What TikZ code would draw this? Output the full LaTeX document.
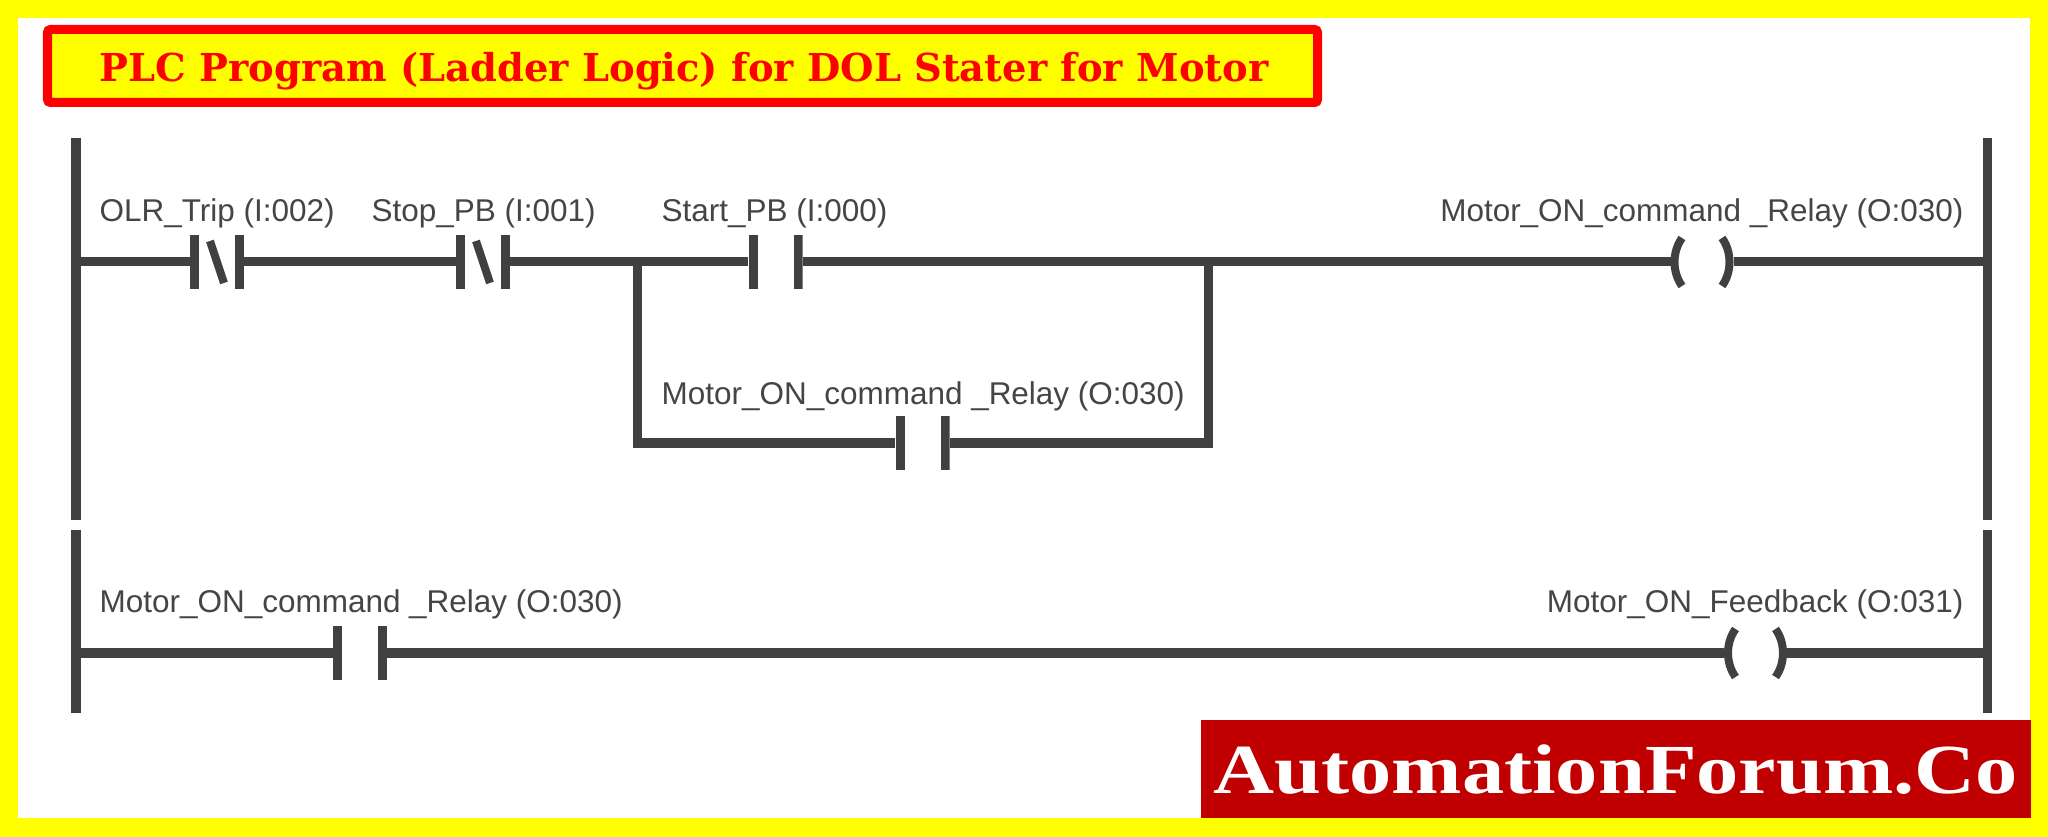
\documentclass[tikz,border=0pt]{standalone}
\usepackage{fontspec}
\setmainfont{Liberation Sans}
\newfontfamily\titlefont{DejaVu Serif}[BoldFont={DejaVu Serif Bold}]
\newfontfamily\brandfont{Liberation Serif}
\definecolor{ink}{HTML}{404040}
\definecolor{labelink}{HTML}{454545}
\definecolor{brandred}{HTML}{C00000}
\definecolor{frameyellow}{HTML}{FFFF00}
\definecolor{titlered}{HTML}{FF0000}
\newcommand{\contactbars}{
  \coordinate (c) at (path picture bounding box.center);
  \fill[ink] ([shift={(-27,-27)}]c) rectangle ([shift={(-18,27)}]c);
  \fill[ink] ([shift={(18,-27)}]c) rectangle ([shift={(27,27)}]c);
}
\tikzset{
  wire/.style = {draw=ink, line width=.09cm},
  rail/.style = {draw=ink, line width=.09cm},
  tag/.style = {inner sep=0pt, text=labelink, font=\fontsize{8.95pt}{10pt}\selectfont},
  no_contact/.style = {minimum width=.54cm, minimum height=.54cm, inner sep=0pt, outer sep=0pt,
    path picture={\contactbars}},
  nc_contact/.style = {minimum width=.54cm, minimum height=.54cm, inner sep=0pt, outer sep=0pt,
    path picture={\contactbars
      \draw[ink, line width=.08cm] ([shift={(-7,-21)}]c) -- ([shift={(7,21)}]c);
    }},
  coilnode/.style = {minimum width=.63cm, minimum height=.54cm, inner sep=0pt, outer sep=0pt,
    path picture={
      \coordinate (c) at (path picture bounding box.center);
      \draw[ink, line width=.08cm] ([shift={(-20,-24)}]c) .. controls ([shift={(-30,-10)}]c) and ([shift={(-30,10)}]c) .. ([shift={(-20,24)}]c);
      \draw[ink, line width=.08cm] ([shift={(20,-24)}]c) .. controls ([shift={(30,-10)}]c) and ([shift={(30,10)}]c) .. ([shift={(20,24)}]c);
    }}
}
\begin{document}
\begin{tikzpicture}[x=.01cm, y=-.01cm]
    \useasboundingbox (0,0) rectangle (2048,837);
    % frame
    \fill[frameyellow] (0,0) rectangle (2048,837);
    \fill[white] (18,18) rectangle (2030,818);
    % title
    \draw[titlered, fill=frameyellow, line width=.09cm, rounded corners=.03cm] (47.5,29.5) rectangle (1317.5,102.5);
    \node[anchor=base west, inner sep=0pt, text=titlered] (title) at (99,82)
      {\fontsize{10.93pt}{13pt}\selectfont\titlefont\bfseries PLC Program (Ladder Logic) for DOL Stater for Motor};
    % brand
    \node[anchor=north west, inner sep=0pt, minimum width=8.3cm, minimum height=.98cm, fill=brandred] (brandbox) at (1200,719) {};
    \node[anchor=base west, inner sep=0pt, text=white] (brand) at (1213,793)
      {\scalebox{1.2}[1]{\fontsize{20pt}{24pt}\selectfont\brandfont\bfseries AutomationForum.Co}};
    % rails
    \coordinate (railAtop) at (76,138);
    \coordinate (railAbot) at (76,520);
    \coordinate (railBtop) at (76,530);
    \coordinate (railBbot) at (76,713);
    \coordinate (railCtop) at (1987,138);
    \coordinate (railCbot) at (1987,520);
    \coordinate (railDtop) at (1987,530);
    \coordinate (railDbot) at (1987,713);
    \draw[rail] (railAtop) -- (railAbot);
    \draw[rail] (railBtop) -- (railBbot);
    \draw[rail] (railCtop) -- (railCbot);
    \draw[rail] (railDtop) -- (railDbot);
    % rung 1
    \coordinate (leftA) at (76,262);
    \coordinate (rightA) at (1987,262);
    \coordinate (joinL) at (637,262);
    \coordinate (joinR) at (1208,262);
    \node[nc_contact] (olr) at (217,262) {};
    \node[nc_contact] (stop) at (483,262) {};
    \node[no_contact] (start) at (775.5,262) {};
    \node[no_contact] (hold) at (922.5,443) {};
    \node[coilnode] (coilA) at (1702,262) {};
    \draw[wire] (leftA) -- (olr.west);
    \draw[wire] (olr.east) -- (stop.west);
    \draw[wire] (stop.east) -- (start.west);
    \draw[wire] (start.east) -- (coilA.west);
    \draw[wire] (coilA.east) -- (rightA);
    \draw[wire] (joinL) |- (hold.west);
    \draw[wire] (hold.east) -| (joinR);
    \node[tag, anchor=base west] (olrtag) at (99,222) {OLR\_Trip (I:002)};
    \node[tag, anchor=base west] (stoptag) at (371,222) {Stop\_PB (I:001)};
    \node[tag, anchor=base west] (starttag) at (661,222) {Start\_PB (I:000)};
    \node[tag, anchor=base east] (coilAtag) at (1964,222) {Motor\_ON\_command \_Relay (O:030)};
    \node[tag, anchor=base west] (holdtag) at (661,405) {Motor\_ON\_command \_Relay (O:030)};
    % rung 2
    \coordinate (leftB) at (76,653);
    \coordinate (rightB) at (1987,653);
    \node[no_contact] (run) at (360,653) {};
    \node[coilnode] (coilB) at (1755.5,653) {};
    \draw[wire] (leftB) -- (run.west);
    \draw[wire] (run.east) -- (coilB.west);
    \draw[wire] (coilB.east) -- (rightB);
    \node[tag, anchor=base west] (runtag) at (99,613) {Motor\_ON\_command \_Relay (O:030)};
    \node[tag, anchor=base east] (coilBtag) at (1964,613) {Motor\_ON\_Feedback (O:031)};
\end{tikzpicture}
\end{document}
